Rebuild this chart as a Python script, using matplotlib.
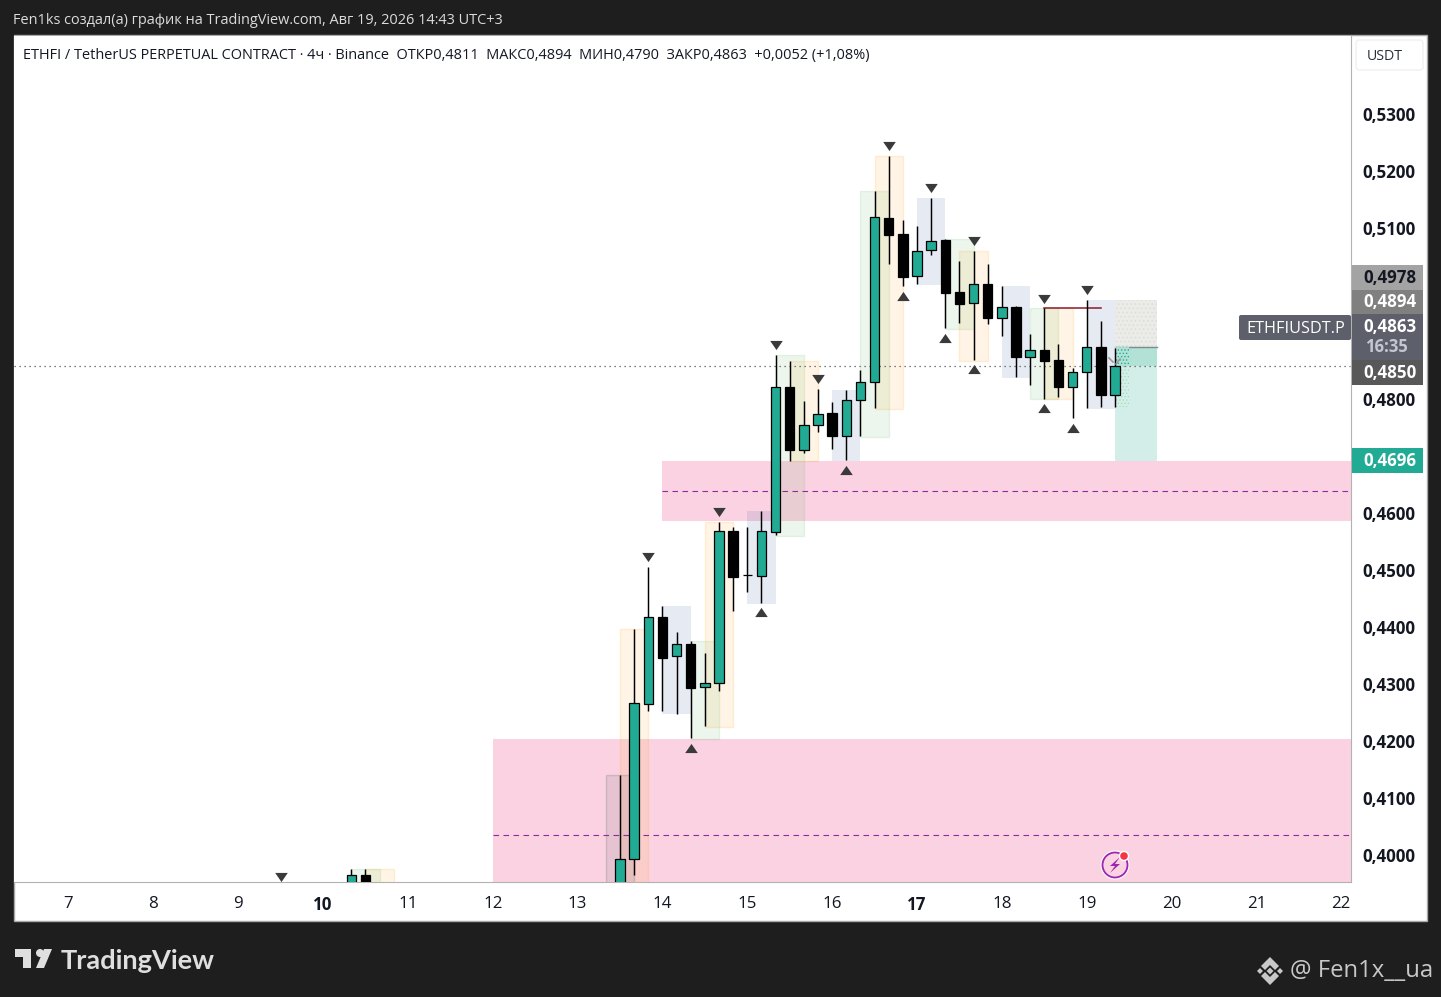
import matplotlib
matplotlib.use("Agg")
import matplotlib.pyplot as plt
from matplotlib.patches import Rectangle, Circle, Polygon, FancyBboxPatch
from matplotlib.transforms import ScaledTranslation

plt.rcParams['font.family'] = ['Open Sans', 'DejaVu Sans']
plt.rcParams['hatch.linewidth'] = 0.6

# candles, index counted in 4h bars from day 13.5
candle_idx = [-19, -18] + list(range(36))
opens = [.3925, .3969, .3925, .3997, .4269, .4422, .4353, .4375, .4299, .4306, .4573, .4496, .4494, .4571,
         .4825, .4715, .4759, .4780, .4740, .4803, .4834, .5122, .5094, .5020, .5066, .5083, .4992, .4973,
         .5006, .4947, .4966, .4878, .4890, .4873, .4825, .4852, .4896, .4811]
closes = [.3969, .3925, .3997, .4271, .4422, .4350, .4375, .4297, .4306, .4573, .4492, .4495, .4573, .4825,
          .4715, .4759, .4778, .4740, .4803, .4834, .5124, .5092, .5018, .5064, .5082, .4990, .4971, .5006,
          .4947, .4966, .4878, .4890, .4871, .4825, .4852, .4896, .4811, .4863]
highs = [.3980, .3980, .4145, .4401, .4510, .4441, .4396, .4380, .4359, .4589, .4580, .4580, .4608, .4882,
         .4871, .4801, .4822, .4799, .4820, .4855, .5169, .5231, .5118, .5108, .5157, .5085, .5046, .5064,
         .5041, .5003, .4968, .4918, .4964, .4901, .4859, .4978, .4941, .4894]
lows = [.3900, .3900, .3899, .3969, .4257, .4257, .4252, .4210, .4231, .4292, .4433, .4466, .4447, .4566,
        .4696, .4710, .4747, .4717, .4697, .4740, .4789, .5041, .5003, .5006, .5057, .4929, .4938, .4873,
        .4936, .4915, .4843, .4829, .4804, .4808, .4771, .4789, .4790, .4790]

# arrows above / below candles
down_idx = [-24, 2, 7, 11, 14, 19, 22, 25, 30, 33]
down_price = [.3966, .4527, .4606, .4899, .4840, .5248, .5175, .5082, .4980, .4996]
up_idx = [5, 10, 16, 20, 23, 25, 30, 32]
up_price = [.4192, .4431, .4680, .4985, .4911, .4857, .4789, .4754]

# coloured boxes: start bar, end bar, top, bottom
blue_boxes = [(3, 5, .4441, .4252), (9, 11, .4608, .4445), (15, 17, .4820, .4696),
              (21, 23, .5157, .5004), (27, 29, .5003, .4841), (33, 35, .4978, .4787)]
green_boxes = [(-19, -17, .3980, .3900), (5, 7, .4380, .4208), (11, 13, .4882, .4564),
               (17, 19, .5169, .4738), (23, 25, .5085, .4927), (29, 31, .4964, .4804)]
orange_boxes = [(-18, -16, .3980, .3900), (0, 2, .4401, .3900), (6, 8, .4589, .4229), (12, 14, .4871, .4696),
                (18, 20, .5231, .4787), (24, 26, .5064, .4871), (30, 32, .4964, .4804)]
gray_boxes = [(-1, 1, .4145, .3900)]

# pink zones: start day, top, mid, bottom
zone_start = [12.0, 14.0]
zone_top = [.4207, .4696]
zone_mid = [.4039, .4643]
zone_bot = [.3871, .4590]

# position tool
pos_start, pos_end = 35, 38
pos_top, pos_entry, pos_mid, pos_target = .4978, .4896, .4863, .4696

day_ticks = list(range(7, 23))
bold_days = [10, 17]
price_ticks = [.53, .52, .51, .48, .46, .45, .44, .43, .42, .41, .40]
price_labels = ['0,5300', '0,5200', '0,5100', '0,4800', '0,4600', '0,4500', '0,4400', '0,4300', '0,4200', '0,4100', '0,4000']

header = 'ETHFI / TetherUS PERPETUAL CONTRACT · 4ч · Binance  ОТКР0,4811  МАКС0,4894  МИН0,4790  ЗАКР0,4863  +0,0052 (+1,08%)'
title = 'Fen1ks создал(а) график на TradingView.com, Авг 19, 2026 14:43 UTC+3'

GREEN = '#22ab94'
W, H = 1441, 997
XMIN, XMAX = 6.358, 22.115


def bar_day(i):
    return 13.5 + i / 6


fig = plt.figure(figsize=(W / 100, H / 100), dpi=100, facecolor='#1e1e1e')

# background panel in pixel coords
bg = fig.add_axes([0, 0, 1, 1], zorder=0)
bg.set_xlim(0, W)
bg.set_ylim(H, 0)
bg.axis('off')
bg.add_patch(Rectangle((13.5, 35.5), 1413.5, 885.5, fc='white', ec='#a8a8a8', lw=1))

# main chart
ax = fig.add_axes([14 / W, 1 - 882 / H, (1351 - 14) / W, (882 - 36) / H], zorder=2)
ax.set_xlim(XMIN, XMAX)
ax.set_ylim(.39570, .54412)
for s in ['top', 'left']:
    ax.spines[s].set_visible(False)
ax.spines['right'].set_color('#b2b2b2')
ax.spines['bottom'].set_color('#b2b2b2')

for st, t, m, b in zip(zone_start, zone_top, zone_mid, zone_bot):
    ax.add_patch(Rectangle((st, b), XMAX - st, t - b, fc='#fad2e2', ec='none', zorder=1))
    ax.plot([st, XMAX - .015], [m, m], color='#8e2a9a', lw=0.8, ls=(0, (5, 4)), zorder=3)


def draw_boxes(boxes, color, edge):
    for a, b, t, bt in boxes:
        ax.add_patch(Rectangle((bar_day(a), bt), (b - a) / 6, t - bt, fc=color + (.1,), ec=edge, lw=1, zorder=2))


draw_boxes(blue_boxes, (.06, .22, .57), 'none')
draw_boxes(green_boxes, (.30, .69, .31), (.30, .69, .31, .12))
draw_boxes(orange_boxes, (1, .6, 0), (1, .6, 0, .14))
for a, b, t, bt in gray_boxes:
    ax.add_patch(Rectangle((bar_day(a), bt), (b - a) / 6, t - bt, fc=(.45, .45, .45, .15), ec=(.45, .45, .45, .25), lw=1, zorder=2))

# position tool
x0, x1 = bar_day(pos_start), bar_day(pos_end)
ax.add_patch(Rectangle((x0, pos_entry), x1 - x0, pos_top - pos_entry, fc='#ebebe8', ec='#dcdcdc', hatch='....', lw=0, zorder=2))
ax.add_patch(Rectangle((x0, pos_target), x1 - x0, pos_entry - pos_target, fc='#d3eee8', ec='none', zorder=2))
ax.add_patch(Rectangle((x0, pos_mid), x1 - x0, pos_entry - pos_mid, fc='#b2e2d5', ec='none', zorder=2))
ax.plot([x0, x1], [pos_entry, pos_entry], color='#7f8c8a', lw=1, zorder=3)
ax.add_patch(Rectangle((x0, .4790), 1 / 6, pos_mid - .4790, fc='#d6efe6', ec='#9fdccb', hatch='.....', lw=0, zorder=3))
ax.add_patch(Rectangle((x0, pos_mid), 1 / 6, pos_entry - pos_mid, fc='#b2e2d5', ec='#22ab94', hatch='.....', lw=0, zorder=3))
ax.plot([bar_day(30), bar_day(34)], [.4964, .4964], color='#8b1a2b', lw=1.1, zorder=3)

# last price line
ax.plot([XMIN, XMAX - .015], [closes[-1], closes[-1]], color='#555555', lw=0.9, ls=(0, (1, 3)), zorder=3)

# candles
xs = [bar_day(i) for i in candle_idx]
ax.vlines(xs, lows, highs, color='black', lw=1.05, zorder=4)
body_low = [min(o, c) for o, c in zip(opens, closes)]
body_h = [abs(o - c) for o, c in zip(opens, closes)]
colors = [GREEN if c >= o else 'black' for o, c in zip(opens, closes)]
ax.bar(xs, body_h, bottom=body_low, width=0.112, color=colors, edgecolor='black', linewidth=0.9, zorder=5)

# arrows, flatter than the stock triangle markers
tri_down = [(-5.5, 4), (5.5, 4), (0, -4)]
tri_up = [(-5.5, -4), (5.5, -4), (0, 4)]
ax.scatter([bar_day(i) for i in down_idx], down_price, marker=tri_down, s=82, color='#3a3a3a', linewidths=0, zorder=6, clip_on=False)
ax.scatter([bar_day(i) for i in up_idx], up_price, marker=tri_up, s=82, color='#3a3a3a', linewidths=0, zorder=6)

# axes ticks
ax.set_xticks(day_ticks)
ax.set_xticklabels([str(d) for d in day_ticks], fontsize=12.2, color='#131722')
for lab, d in zip(ax.get_xticklabels(), day_ticks):
    if d in bold_days:
        lab.set_fontweight('bold')
ax.tick_params(axis='x', length=0, pad=9.8)
ax.yaxis.tick_right()
ax.set_yticks(price_ticks)
ax.set_yticklabels(price_labels, fontsize=12.2, fontweight='bold', color='#131722')
ax.tick_params(axis='y', length=0, pad=8)
shift = ScaledTranslation(0, 2.2 / 100, fig.dpi_scale_trans)
for lab in ax.get_yticklabels():
    lab.set_transform(lab.get_transform() + shift)

# overlay: tags, header, logos
top = fig.add_axes([0, 0, 1, 1], zorder=5)
top.set_xlim(0, W)
top.set_ylim(H, 0)
top.axis('off')
top.patch.set_alpha(0)

top.text(13, 21, title, fontsize=10.48, color='#dcdcdc', va='center')
top.text(23, 55.5, header, fontsize=10.45, color='#131722', va='center')

top.add_patch(FancyBboxPatch((1356, 40), 67, 30, boxstyle='round,pad=0,rounding_size=3', fc='white', ec='#f0f0f0', lw=1))
top.text(1385, 56.5, 'USDT', fontsize=10.2, color='#2a2e39', ha='center', va='center')

tags = [(265, 25, '#a3a3a3', '0,4978', '#131722'), (290, 24, '#808080', '0,4894', 'white'),
        (314, 46, '#5d606b', '0,4863', 'white'), (360, 25, '#585858', '0,4850', 'white'),
        (448, 25, GREEN, '0,4696', 'white')]
for y, h, c, s, tc in tags:
    top.add_patch(Rectangle((1352, y), 71, h, fc=c, ec='none'))
    ty = y + h / 2 if h < 30 else y + 12.5
    top.text(1390, ty, s, fontsize=12.2, fontweight='bold', color=tc, ha='center', va='center')
top.text(1386, 347, '16:35', fontsize=12, fontweight='bold', color='#c4c7cf', ha='center', va='center')
top.add_patch(FancyBboxPatch((1239, 315), 112, 25, boxstyle='round,pad=0,rounding_size=2', fc='#5d606b', ec='none'))
top.text(1295.5, 328.5, 'ETHFIUSDT.P', fontsize=11.7, color='white', ha='center', va='center')

# small gray pointer near last candle
top.plot([1109, 1113], [358, 362], color='#9a9a9a', lw=1.2)
top.plot([1116, 1120], [364, 359], color='#9a9a9a', lw=1.2)

# alert icon
top.add_patch(Circle((1115, 865), 14.5, fc='white', ec='none'))
top.add_patch(Circle((1115, 865), 12.5, fc='#fad2e2', ec='#9c27b0', lw=1.3))
top.add_patch(Polygon([(1120, 857), (1110, 866), (1115, 866), (1110, 873), (1120, 864), (1115, 864)], fc='#9c27b0', ec='none'))
top.add_patch(Circle((1124, 856), 4.5, fc='#f23645', ec='white', lw=1))

# TradingView logo
logo = '#dfdfdf'
top.add_patch(Polygon([(15, 949), (31, 949), (31, 968), (23, 968), (23, 957), (15, 957)], fc=logo, ec='none'))
top.add_patch(Circle((40, 953), 4, fc=logo, ec='none'))
top.add_patch(Polygon([(44, 949), (52, 949), (44, 968), (36, 968)], fc=logo, ec='none'))
top.text(61, 960.5, 'TradingView', fontsize=19.6, fontweight='bold', family=['Lato', 'DejaVu Sans'], color=logo, va='center')

# watermark
wm = '#c8c8c8'
top.add_patch(Polygon([(1270, 957), (1279, 966), (1275, 970), (1270, 965), (1265, 970), (1261, 966)], fc=wm, ec='none'))
top.add_patch(Polygon([(1270, 985), (1279, 976), (1275, 972), (1270, 977), (1265, 972), (1261, 976)], fc=wm, ec='none'))
top.add_patch(Polygon([(1260, 968), (1263, 971), (1260, 974), (1257, 971)], fc=wm, ec='none'))
top.add_patch(Polygon([(1280, 968), (1283, 971), (1280, 974), (1277, 971)], fc=wm, ec='none'))
top.add_patch(Polygon([(1270, 967.5), (1273.5, 971), (1270, 974.5), (1266.5, 971)], fc=wm, ec='none'))
top.text(1290, 971, '@ Fen1x__ua', fontsize=17.2, color=wm, va='center')

fig.savefig('out.png', dpi=100, facecolor=fig.get_facecolor())
